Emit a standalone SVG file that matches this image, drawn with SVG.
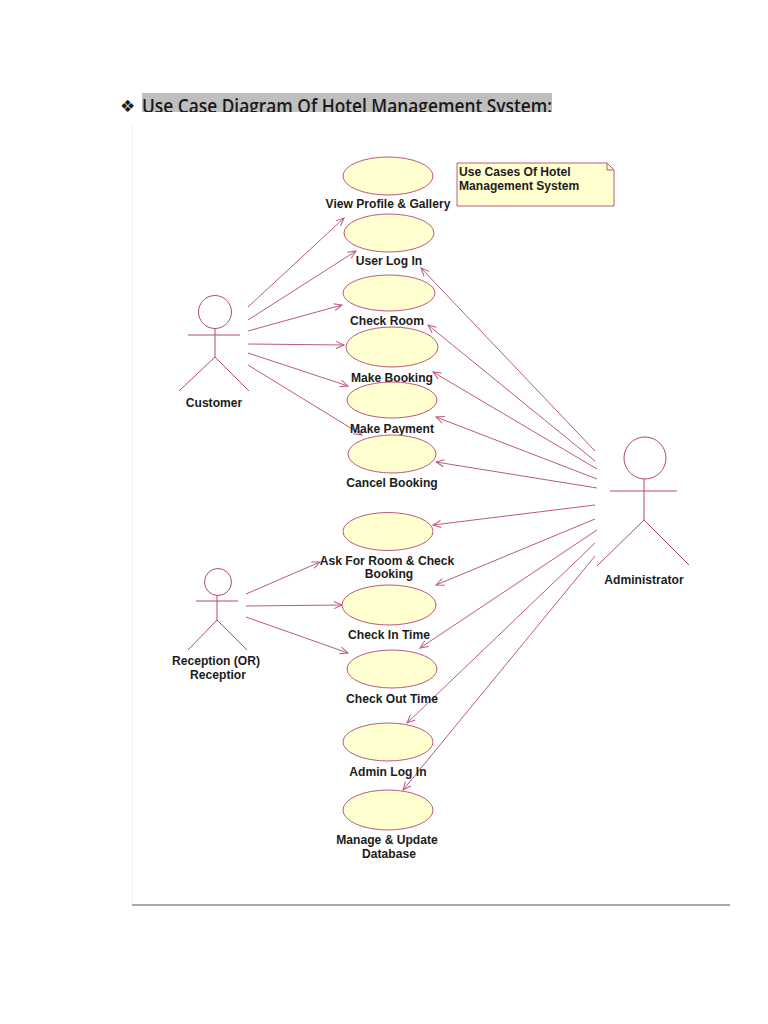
<svg xmlns="http://www.w3.org/2000/svg" width="768" height="1024" viewBox="0 0 768 1024">
<style>
.uc{fill:#ffffcf;stroke:#bc5a80;stroke-width:1}
.ac{fill:none;stroke:#b24a74;stroke-width:1}
.cn{fill:none;stroke:#bc5a80;stroke-width:1;marker-end:url(#open)}
.lb{font-family:"Liberation Sans",Arial,sans-serif;font-weight:700;font-size:12.100px;fill:#1c1c1c;text-anchor:middle}
.nt{font-family:"Liberation Sans",Arial,sans-serif;font-weight:700;font-size:12.100px;fill:#1c1c1c}
</style>
<defs>
<marker id="open" markerUnits="userSpaceOnUse" markerWidth="12" markerHeight="10" refX="9" refY="5" orient="auto">
<path d="M1 1.500L9 5L1 8.500" fill="none" stroke="#bc5a80" stroke-width="1"/>
</marker>
<clipPath id="titleClip"><rect x="110" y="85" width="460" height="27"/></clipPath>
</defs>
<rect width="768" height="1024" fill="#fff"/>
<g id="page">
<rect x="132" y="125" width="1" height="780" fill="#f1f1f1"/>
<rect x="132" y="904" width="598" height="2" fill="#a8a8a8"/>
</g>
<g id="title">
<rect x="142" y="93" width="410" height="19" fill="#bfbfbf"/>
<g clip-path="url(#titleClip)">
<text x="120" y="112" font-family="'DejaVu Sans',sans-serif" font-size="17" fill="#1a1a1a">❖</text>
<text x="142" y="113" font-family="'Open Sans',sans-serif" font-weight="600" font-size="19" fill="#1a1a1a" textLength="410" lengthAdjust="spacingAndGlyphs">Use Case Diagram Of Hotel Management System:</text>
</g>
</g>
<g id="connectors">
<line class="cn" x1="248" y1="307" x2="344" y2="218"/>
<line class="cn" x1="248" y1="320" x2="356" y2="251"/>
<line class="cn" x1="248" y1="331" x2="342" y2="305"/>
<line class="cn" x1="248" y1="344" x2="344" y2="345"/>
<line class="cn" x1="248" y1="353" x2="348" y2="386"/>
<line class="cn" x1="248" y1="365" x2="362" y2="435"/>
<line class="cn" x1="246" y1="594" x2="320" y2="562"/>
<line class="cn" x1="246" y1="606" x2="342" y2="605"/>
<line class="cn" x1="246" y1="617" x2="348" y2="653"/>
<line class="cn" x1="595" y1="451" x2="421" y2="268"/>
<line class="cn" x1="595" y1="461" x2="428" y2="325"/>
<line class="cn" x1="597" y1="469" x2="433" y2="372"/>
<line class="cn" x1="597" y1="479" x2="436" y2="417"/>
<line class="cn" x1="597" y1="488" x2="436" y2="462"/>
<line class="cn" x1="595" y1="505" x2="433" y2="525"/>
<line class="cn" x1="595" y1="519" x2="436" y2="585"/>
<line class="cn" x1="597" y1="530" x2="420" y2="648"/>
<line class="cn" x1="595" y1="543" x2="407" y2="723"/>
<line class="cn" x1="595" y1="556" x2="403" y2="790"/>
</g>
<g id="note">
<path d="M457 163H607L614 170V206H457Z" fill="#ffffcf" stroke="#bc5a80" stroke-width="1"/>
<path d="M607 163V170H614" fill="none" stroke="#bc5a80" stroke-width="1"/>
<text class="nt" x="459" y="176">Use Cases Of Hotel</text>
<text class="nt" x="459" y="190">Management System</text>
</g>
<g id="uc-view"><ellipse class="uc" cx="388" cy="176" rx="45" ry="19"/><text class="lb" x="388" y="208">View Profile &amp; Gallery</text></g>
<g id="uc-login"><ellipse class="uc" cx="389" cy="233" rx="45" ry="19"/><text class="lb" x="389" y="265">User Log In</text></g>
<g id="uc-room"><ellipse class="uc" cx="389" cy="293" rx="46" ry="18"/><text class="lb" x="387" y="325">Check Room</text></g>
<g id="uc-booking"><ellipse class="uc" cx="392" cy="347" rx="46" ry="20"/><text class="lb" x="392" y="382">Make Booking</text></g>
<g id="uc-payment"><ellipse class="uc" cx="392" cy="400" rx="45" ry="18"/><text class="lb" x="392" y="433">Make Payment</text></g>
<g id="uc-cancel"><ellipse class="uc" cx="392" cy="454" rx="44" ry="19"/><text class="lb" x="392" y="487">Cancel Booking</text></g>
<g id="uc-ask"><ellipse class="uc" cx="388" cy="531.500" rx="45" ry="19"/><text class="lb" x="387" y="565">Ask For Room &amp; Check</text><text class="lb" x="389" y="578">Booking</text></g>
<g id="uc-checkin"><ellipse class="uc" cx="389" cy="605" rx="47" ry="20"/><text class="lb" x="389" y="639">Check In Time</text></g>
<g id="uc-checkout"><ellipse class="uc" cx="392" cy="669" rx="45" ry="19"/><text class="lb" x="392" y="703">Check Out Time</text></g>
<g id="uc-admin"><ellipse class="uc" cx="388" cy="742" rx="45" ry="19"/><text class="lb" x="388" y="776">Admin Log In</text></g>
<g id="uc-manage"><ellipse class="uc" cx="388" cy="810" rx="45" ry="20"/><text class="lb" x="387" y="844">Manage &amp; Update</text><text class="lb" x="389" y="858">Database</text></g>
<g id="actor-customer"><circle class="ac" cx="215" cy="312" r="16.500"/><path class="ac" d="M188 335H240M215 328.500V357M179 391L215 357L249 391"/><text class="lb" x="214" y="407">Customer</text></g>
<g id="actor-reception"><circle class="ac" cx="218" cy="582" r="13.500"/><path class="ac" d="M196 601H238M217 595V620M188 650L217 620L247 650"/><text class="lb" x="216" y="665">Reception (OR)</text><text class="lb" x="218" y="679">Receptior</text></g>
<g id="actor-admin"><circle class="ac" cx="645" cy="458" r="21"/><path class="ac" d="M610 491H677M644 479V520M597 566L644 520L689 565"/><text class="lb" x="644" y="584">Administrator</text></g>
</svg>
